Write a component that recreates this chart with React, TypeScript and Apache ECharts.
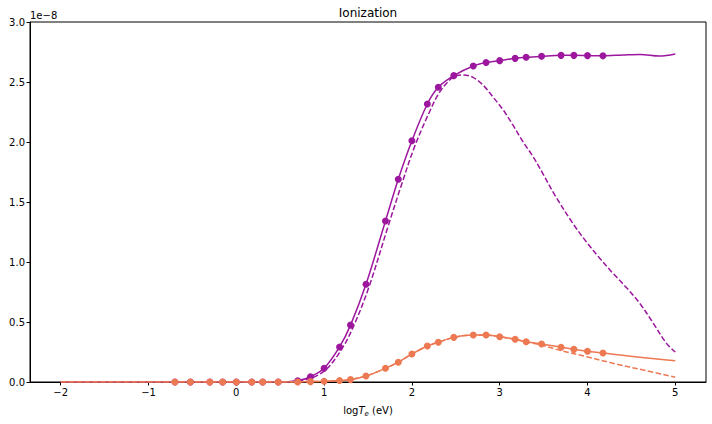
import React, { useEffect, useRef } from "react";
import * as echarts from "echarts";

// Marker positions: log10 of Te (eV) at 0.2,0.3,0.5,0.7,1,1.5,2,3,5,7 x decades
const dotLogT = [
  -0.699, -0.523, -0.301, -0.155, 0, 0.176, 0.301, 0.477, 0.699, 0.845,
  1, 1.176, 1.301, 1.477, 1.699, 1.845, 2, 2.176, 2.301, 2.477,
  2.699, 2.845, 3, 3.176, 3.301, 3.477, 3.699, 3.845, 4, 4.176,
];
// values in units of 1e-8
const purpleDots = [
  0, 0, 0, 0, 0, 0, 0, 0, 0.01, 0.044,
  0.114, 0.292, 0.474, 0.814, 1.342, 1.689, 2.01, 2.317, 2.456, 2.553,
  2.633, 2.662, 2.678, 2.697, 2.706, 2.714, 2.722, 2.722, 2.72, 2.718,
];
const orangeDots = [
  0, 0, 0, 0, 0, 0, 0, 0, 0, 0.003,
  0.006, 0.012, 0.02, 0.05, 0.114, 0.165, 0.233, 0.3, 0.331, 0.372,
  0.392, 0.392, 0.377, 0.356, 0.336, 0.317, 0.289, 0.272, 0.256, 0.242,
];

// Continuous curves
const purpleSolidX = [-2, 0.4, 0.55, 0.699, 0.845, 1, 1.176, 1.301, 1.477, 1.699, 1.845, 2, 2.176, 2.301, 2.477, 2.699, 2.845, 3, 3.176, 3.301, 3.477, 3.699, 3.845, 4, 4.176, 4.4, 4.6, 4.82, 5];
const purpleSolidY = [0, 0, 0.002, 0.01, 0.044, 0.114, 0.292, 0.474, 0.814, 1.342, 1.689, 2.01, 2.317, 2.456, 2.553, 2.633, 2.662, 2.678, 2.697, 2.706, 2.714, 2.722, 2.722, 2.72, 2.718, 2.725, 2.73, 2.716, 2.733];

const purpleDashX = [-2, 0.45, 0.6, 0.734, 0.88, 1.035, 1.21, 1.336, 1.51, 1.73, 1.88, 2.03, 2.2, 2.32, 2.47, 2.58, 2.695, 2.81, 2.92, 3.04, 3.15, 3.265, 3.38, 3.49, 3.63, 3.835, 3.99, 4.14, 4.29, 4.44, 4.595, 4.75, 4.9, 5];
const purpleDashY = [0, 0, 0.002, 0.012, 0.039, 0.112, 0.285, 0.465, 0.79, 1.3, 1.64, 1.96, 2.25, 2.42, 2.54, 2.558, 2.539, 2.475, 2.378, 2.267, 2.142, 2.003, 1.878, 1.739, 1.555, 1.32, 1.165, 1.031, 0.906, 0.79, 0.656, 0.489, 0.322, 0.25];

const orangeSolidX = [-2, 0.5, 0.699, 0.845, 1, 1.176, 1.301, 1.477, 1.699, 1.845, 2, 2.176, 2.301, 2.477, 2.699, 2.845, 3, 3.176, 3.301, 3.477, 3.699, 3.845, 4, 4.176, 4.595, 5];
const orangeSolidY = [0, 0, 0.001, 0.003, 0.006, 0.012, 0.02, 0.05, 0.114, 0.165, 0.233, 0.3, 0.331, 0.372, 0.392, 0.392, 0.377, 0.356, 0.336, 0.317, 0.289, 0.272, 0.256, 0.242, 0.206, 0.178];

const orangeDashX = [-2, 0.5, 0.699, 0.845, 1, 1.176, 1.301, 1.477, 1.699, 1.845, 2, 2.176, 2.301, 2.477, 2.699, 2.845, 3, 3.176, 3.301, 3.475, 3.7, 3.99, 4.29, 4.67, 5];
const orangeDashY = [0, 0, 0.001, 0.003, 0.006, 0.012, 0.02, 0.05, 0.114, 0.165, 0.233, 0.3, 0.331, 0.372, 0.392, 0.392, 0.377, 0.356, 0.334, 0.308, 0.261, 0.211, 0.156, 0.094, 0.04];

const xTicks = [-2, -1, 0, 1, 2, 3, 4, 5];

const PURPLE = "#9c179e";
const ORANGE = "#ed7953";
const FONT = "DejaVu Sans";

const zip = (xs: number[], ys: number[]) => xs.map((x, i) => [x, ys[i]]);

export default function App() {
  const ref = useRef<HTMLDivElement>(null);
  useEffect(() => {
    if (!ref.current) return;
    const chart = echarts.init(ref.current, null, { renderer: "svg" });
    const lineS = (name: string, data: number[][], color: string, dashed: boolean, z: number) => ({
      name,
      type: "line",
      data,
      smooth: 0.35,
      showSymbol: false,
      symbol: "none",
      z,
      lineStyle: { color, width: 1.5, type: dashed ? [5.5, 2.4] : "solid" },
    });
    const dotS = (name: string, data: number[][], color: string, z: number) => ({
      name,
      type: "scatter",
      data,
      symbol: "circle",
      symbolSize: 7,
      z,
      itemStyle: { color, opacity: 1 },
    });
    chart.setOption({
      animation: false,
      backgroundColor: "#fff",
      grid: {
        left: 30,
        top: 22,
        width: 676,
        height: 360,
        show: true,
        borderColor: "#000",
        borderWidth: 1,
        backgroundColor: "transparent",
      },
      xAxis: {
        type: "value",
        min: -2.35,
        max: 5.35,
        splitLine: { show: false },
        axisLine: { show: true, onZero: false, lineStyle: { color: "#000", width: 1 } },
        axisTick: { show: true, customValues: xTicks, length: 3.5, lineStyle: { color: "#000", width: 1 } },
        axisLabel: {
          customValues: xTicks,
          color: "#000",
          fontSize: 10,
          fontFamily: FONT,
          margin: 5,
          formatter: (v: number) => (v < 0 ? "\u2212" + Math.abs(v) : String(v)),
        },
      },
      yAxis: {
        type: "value",
        min: 0,
        max: 3,
        interval: 0.5,
        splitLine: { show: false },
        axisLine: { show: true, onZero: false, lineStyle: { color: "#000", width: 1 } },
        axisTick: { show: true, length: 3.5, lineStyle: { color: "#000", width: 1 } },
        axisLabel: {
          color: "#000",
          fontSize: 10,
          fontFamily: FONT,
          margin: 5,
          formatter: (v: number) => v.toFixed(1),
        },
      },
      graphic: [
        {
          type: "text",
          x: 368,
          y: 13,
          style: { text: "Ionization", fontSize: 12, fontFamily: FONT, fill: "#000", textAlign: "center", textVerticalAlign: "middle" },
        },
        {
          type: "text",
          x: 30,
          y: 15,
          style: { text: "1e\u22128", fontSize: 10, fontFamily: FONT, fill: "#000", textAlign: "left", textVerticalAlign: "middle" },
        },
        {
          type: "text",
          x: 368,
          y: 410,
          style: {
            text: "{n|log}{i|T}{s|e}{n| (eV)}",
            textAlign: "center",
            textVerticalAlign: "middle",
            rich: {
              n: { fontSize: 10, fontFamily: FONT, fill: "#000", lineHeight: 14, verticalAlign: "middle" },
              i: { fontSize: 10, fontFamily: FONT, fontStyle: "italic", fill: "#000", lineHeight: 14, verticalAlign: "middle" },
              s: { fontSize: 7, fontFamily: FONT, fontStyle: "italic", fill: "#000", lineHeight: 14, verticalAlign: "bottom" },
            },
          },
        },
      ],
      series: [
        lineS("purple", zip(purpleSolidX, purpleSolidY), PURPLE, false, 2),
        lineS("purple-dash", zip(purpleDashX, purpleDashY), PURPLE, true, 2),
        dotS("purple-dots", zip(dotLogT, purpleDots), PURPLE, 3),
        lineS("orange", zip(orangeSolidX, orangeSolidY), ORANGE, false, 4),
        lineS("orange-dash", zip(orangeDashX, orangeDashY), ORANGE, true, 4),
        dotS("orange-dots", zip(dotLogT, orangeDots), ORANGE, 5),
      ],
    });
    return () => chart.dispose();
  }, []);
  return (
    <div
      ref={ref}
      style={{ position: "fixed", left: 0, top: 0, width: 712, height: 424, background: "#fff" }}
    />
  );
}
